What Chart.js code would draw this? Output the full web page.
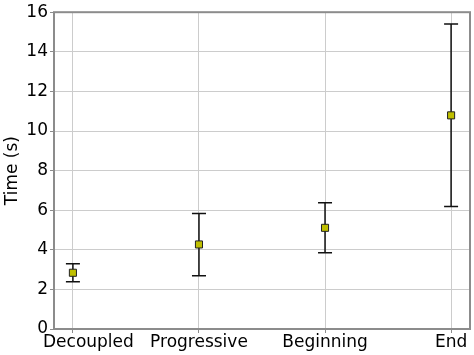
<!DOCTYPE html>
<html><head><meta charset="utf-8">
<script src="https://cdn.jsdelivr.net/npm/chart.js@4"></script>
<style>html,body{margin:0;padding:0;background:#fff}#wrap{width:474px;height:355px}</style>
</head><body><div id="wrap"><canvas id="c" width="474" height="355"></canvas></div>
<script>
const categories = ["Decoupled", "Progressive", "Beginning", "End"];
const means = [2.84, 4.27, 5.11, 10.79];
const errLow = [2.39, 2.69, 3.85, 6.19];
const errHigh = [3.30, 5.83, 6.38, 15.40];
const yTicks = [0, 2, 4, 6, 8, 10, 12, 14, 16];

const points = categories.map((c, i) => ({x: i, y: means[i]}));
const FONT = '17px "DejaVu Sans"';

const errorBars = {
  id: 'errorBars',
  beforeDatasetsDraw(chart) {
    const ctx = chart.ctx, xs = chart.scales.x, ys = chart.scales.y;
    ctx.save();
    ctx.strokeStyle = '#111';
    ctx.lineWidth = 1.5;
    categories.forEach((c, i) => {
      const px = xs.getPixelForValue(i);
      const lo = ys.getPixelForValue(errLow[i]);
      const hi = ys.getPixelForValue(errHigh[i]);
      ctx.beginPath();
      ctx.moveTo(px, lo); ctx.lineTo(px, hi);
      ctx.moveTo(px - 7, lo); ctx.lineTo(px + 7, lo);
      ctx.moveTo(px - 7, hi); ctx.lineTo(px + 7, hi);
      ctx.stroke();
    });
    ctx.restore();
  },
  afterDraw(chart) {
    const ctx = chart.ctx, a = chart.chartArea, xs = chart.scales.x;
    ctx.save();
    ctx.strokeStyle = '#8c8c8c';
    ctx.lineWidth = 2;
    ctx.strokeRect(a.left, a.top, a.right - a.left, a.bottom - a.top);
    ctx.fillStyle = '#000';
    ctx.font = FONT;
    ctx.textBaseline = 'top';
    categories.forEach((c, i) => {
      const px = xs.getPixelForValue(i);
      if (i === 0) { ctx.textAlign = 'left'; ctx.fillText(c, a.left - 11, a.bottom + 5); }
      else { ctx.textAlign = 'center'; ctx.fillText(c, px, a.bottom + 5); }
    });
    ctx.restore();
  }
};

new Chart(document.getElementById('c'), {
  type: 'scatter',
  data: {
    datasets: [{
      data: points,
      pointStyle: 'rect',
      pointRadius: 5,
      pointHoverRadius: 5,
      backgroundColor: '#bfbf00',
      borderColor: '#222',
      borderWidth: 1
    }]
  },
  options: {
    responsive: false,
    animation: false,
    events: [],
    layout: {autoPadding: false, padding: {top: 12, right: 4, left: 2, bottom: 0}},
    plugins: {legend: {display: false}, tooltip: {enabled: false}},
    scales: {
      x: {
        type: 'linear',
        min: -0.15, max: 3.15,
        afterBuildTicks(s) { s.ticks = categories.map((c, i) => ({value: i})); },
        afterFit(s) { s.height = 26; s.paddingLeft = 0; s.paddingRight = 0; },
        ticks: {display: false},
        grid: {color: '#cccccc', lineWidth: 1, tickLength: 4, tickColor: '#8c8c8c'},
        border: {display: false}
      },
      y: {
        min: 0, max: 16,
        afterBuildTicks(s) { s.ticks = yTicks.map(v => ({value: v})); },
        afterFit(s) { s.width = 52; },
        title: {display: true, text: 'Time (s)', color: '#000', font: {family: 'DejaVu Sans', size: 17}, padding: {top: 0, bottom: 2}},
        ticks: {color: '#000', padding: 2, font: {family: 'DejaVu Sans', size: 17}},
        grid: {color: '#cccccc', lineWidth: 1, tickLength: 4, tickColor: '#8c8c8c'},
        border: {display: false}
      }
    }
  },
  plugins: [errorBars]
});
</script></body></html>
